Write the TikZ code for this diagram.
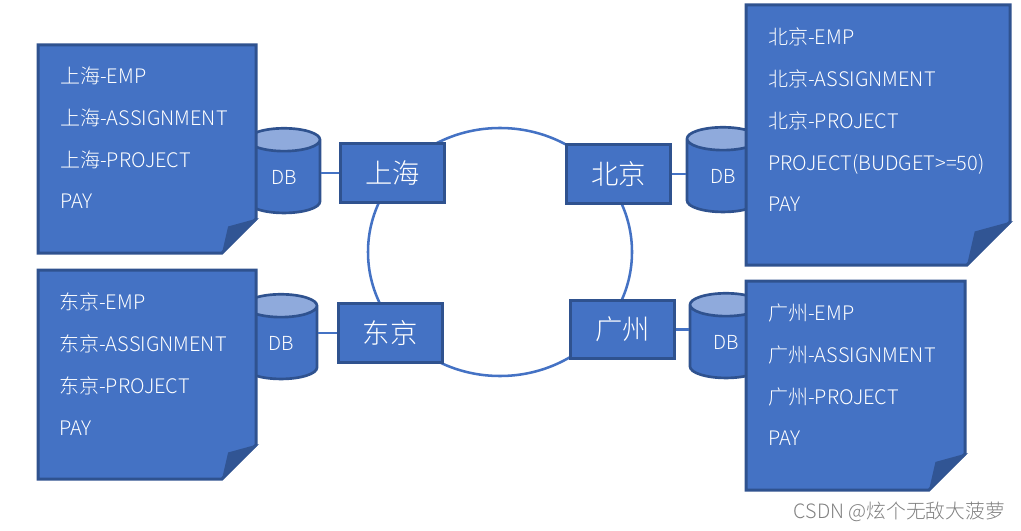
\documentclass[tikz,border=0pt]{standalone}
\usepackage{fontspec}
\setmainfont{Noto Sans CJK SC Light}
\usetikzlibrary{positioning,shapes.geometric}
\definecolor{fillblue}{HTML}{4472C4}
\definecolor{edgeblue}{HTML}{2F528F}
\definecolor{capblue}{HTML}{8FAADC}
\tikzset{
  sitebox/.style={draw=edgeblue,fill=fillblue,line width=2.25pt,text=white,minimum width=78pt,minimum height=44pt,inner sep=0pt,font=\fontsize{20.5}{24}\selectfont},
  dbcyl/.style={cylinder,shape border rotate=90,aspect=0.9,draw=edgeblue,line width=2pt,cylinder uses custom fill,cylinder body fill=fillblue,cylinder end fill=capblue,minimum width=54pt,minimum height=63.5pt,inner sep=0pt,text=white,font=\fontsize{14.5}{17}\selectfont},
  notetext/.style={anchor=west,inner sep=0pt,align=left,text=white,font=\fontsize{15}{31.3}\selectfont},
  link/.style={draw=fillblue,line width=1.9pt}
}
% x, y, width, height, fold
\newcommand{\notepage}[5]{
  \draw[draw=edgeblue,fill=fillblue,line width=2.25pt,line join=miter] (#1,#2) -- ++(#3,0) -- ++(0,#4-#5) -- ++(-#5,#5) -- ++(-#3+#5,0) -- cycle;
  \fill[edgeblue!90!fillblue] (#1+#3+3,#2+#4-#5-1) -- (#1+#3-#5*0.82,#2+#4-#5*0.78) -- (#1+#3-#5,#2+#4) -- cycle;
}
\begin{document}
\begin{tikzpicture}[x=0.75pt,y=-0.75pt]
\useasboundingbox (0,0) rectangle (1021,531);
\draw[link] (500,252) ellipse (132 and 124);
\node[dbcyl] (shdb) at (284,177) {DB};
\node[dbcyl] (bjdb) at (723,176) {DB};
\node[dbcyl] (djdb) at (281,343) {DB};
\node[dbcyl] (gzdb) at (726,342) {DB};
\node[sitebox] (shbox) at (392.5,173) {上海};
\node[sitebox] (bjbox) at (618.5,174) {北京};
\node[sitebox] (djbox) at (390,333) {东京};
\node[sitebox] (gzbox) at (622.5,329.5) {广州};
\draw[link] (shdb.east |- shbox) -- (shbox);
\draw[link] (bjdb.west |- bjbox) -- (bjbox);
\draw[link] (djdb.east |- djbox) -- (djbox);
\draw[link] (gzdb.west |- gzbox) -- (gzbox);
\notepage{38}{45}{218}{208}{34}
\notepage{38}{270}{218}{209}{34}
\notepage{746}{5}{264}{260}{43}
\notepage{746}{281}{219}{209}{36}
\node[notetext] (shnote) at (60,138) {上海-EMP\\上海-ASSIGNMENT\\上海-PROJECT\\PAY};
\node[notetext] (djnote) at (59,364) {东京-EMP\\东京-ASSIGNMENT\\东京-PROJECT\\PAY};
\node[notetext] (bjnote) at (768,120) {北京-EMP\\北京-ASSIGNMENT\\北京-PROJECT\\PROJECT(BUDGET>=50)\\PAY};
\node[notetext] (gznote) at (768,375) {广州-EMP\\广州-ASSIGNMENT\\广州-PROJECT\\PAY};
\node[anchor=east,inner sep=0pt,text=black!50,font=\fontsize{14.8}{16}\selectfont] (mark) at (1005,512) {CSDN @炫个无敌大菠萝};
\end{tikzpicture}
\end{document}
